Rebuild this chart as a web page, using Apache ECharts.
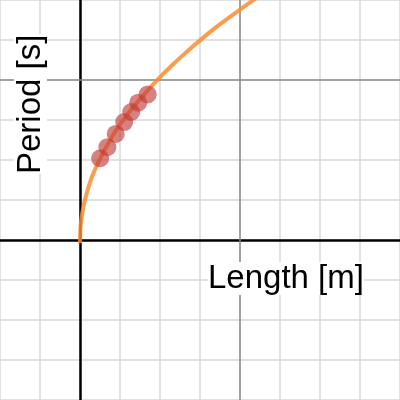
<!DOCTYPE html>
<html><head><meta charset="utf-8">
<script src="https://cdn.jsdelivr.net/npm/echarts@6/dist/echarts.min.js"></script>
<style>html,body{margin:0;padding:0;background:#fff}#c{width:400px;height:400px}</style>
</head><body><div id="c"></div>
<script>
const pointX = [0.126,0.171,0.223,0.276,0.320,0.364,0.423];
const pointY = [0.511,0.580,0.663,0.737,0.800,0.858,0.910];
const curveX = [0,0.002,0.005,0.02,0.05,0.1,0.2,0.3,0.45,0.6,0.8,1.0,1.1];
const curveY = [-0.02,0.06,0.1,0.2,0.32,0.455,0.645,0.79,0.965,1.115,1.29,1.44,1.51];
const xTitle = 'Length [m]';
const yTitle = 'Period [s]';
const chart = echarts.init(document.getElementById('c'));
const axisCommon = {
  interval: 0.25,
  axisLine: {onZero: true, lineStyle: {color: '#000', width: 2.5}},
  axisTick: {show: false}, axisLabel: {show: false},
  splitLine: {show: true, lineStyle: {color: '#d9d9d9', width: 1.5}}
};
chart.setOption({
  animation: false,
  grid: {left: -28, width: 435, top: 0, height: 435},
  xAxis: Object.assign({type: 'value', min: -0.5, max: 2.0}, axisCommon),
  yAxis: Object.assign({type: 'value', min: -1.0, max: 1.5}, axisCommon),
  series: [
    {type: 'line', data: [[1,-1],[1,1.5]], symbol: 'none', silent: true,
     lineStyle: {color: '#8c8c8c', width: 1.5}, z: 1},
    {type: 'line', data: [[-0.5,1],[2,1]], symbol: 'none', silent: true,
     lineStyle: {color: '#8c8c8c', width: 1.5}, z: 1},
    {type: 'line', data: curveX.map((x,i)=>[x,curveY[i]]), smooth: true, symbol: 'none',
     lineStyle: {color: 'rgba(250,140,50,0.85)', width: 4}, z: 3},
    {type: 'scatter', data: pointX.map((x,i)=>[x,pointY[i]]), symbolSize: 18,
     itemStyle: {color: 'rgba(192,60,56,0.8)'}, z: 4}
  ],
  graphic: [
    {type: 'text', left: 208, top: 262, z: 100, style: {text: xTitle, font: '33px "Liberation Sans", Arial', fill: '#000', backgroundColor: '#fff'}},
    {type: 'text', x: 14, y: 174, z: 100, rotation: Math.PI/2,
     style: {text: yTitle, font: '33px "Liberation Sans", Arial', fill: '#000', backgroundColor: '#fff'}}
  ]
});
</script></body></html>
